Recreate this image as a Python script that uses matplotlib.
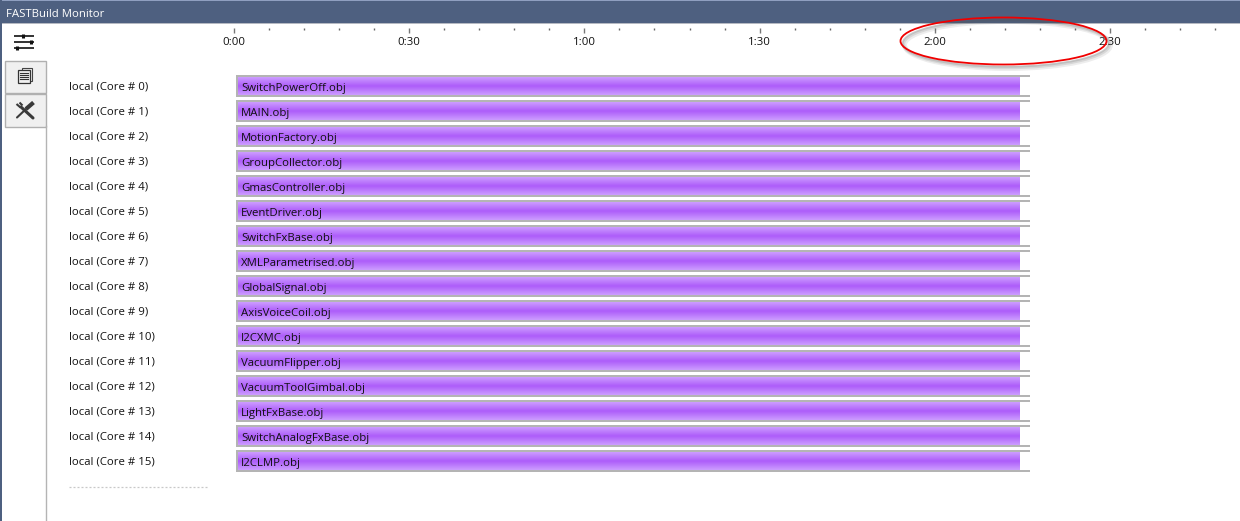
import numpy as np
import matplotlib
matplotlib.use("Agg")
import matplotlib.pyplot as plt
from matplotlib.colors import LinearSegmentedColormap
from matplotlib.patches import Rectangle, Ellipse

plt.rcParams['font.family'] = ['Open Sans', 'DejaVu Sans']

cores = [f"local (Core # {i})" for i in range(16)]
jobs = ["SwitchPowerOff.obj", "MAIN.obj", "MotionFactory.obj", "GroupCollector.obj",
        "GmasController.obj", "EventDriver.obj", "SwitchFxBase.obj", "XMLParametrised.obj",
        "GlobalSignal.obj", "AxisVoiceCoil.obj", "I2CXMC.obj", "VacuumFlipper.obj",
        "VacuumToolGimbal.obj", "LightFxBase.obj", "SwitchAnalogFxBase.obj", "I2CLMP.obj"]
job_start = [0.68] * 16
job_end = [134.45] * 16
row_end = [136.3] * 16
major_secs = [0, 30, 60, 90, 120, 150]
major_labels = ["0:00", "0:30", "1:00", "1:30", "2:00", "2:30"]
minor_secs = [s for s in range(0, 169, 6) if s % 30]

W, H = 1240, 521
PX_PER_SEC = 5.84
X0 = 234.0
Y0 = 86.0
ROW = 25.0
FS = 8.2

fig = plt.figure(figsize=(W / 100, H / 100), dpi=100, facecolor="white")

# chart axes: x in seconds, y in row numbers
ax = fig.add_axes([0, 0, 1, 1], zorder=2)
ax.axis("off")

# overlay in pixels for window chrome
ui = fig.add_axes([0, 0, 1, 1], zorder=1)
ui.set_xlim(0, W)
ui.set_ylim(H, 0)
ui.axis("off")

top = fig.add_axes([0, 0, 1, 1], zorder=3)
top.set_xlim(0, W)
top.set_ylim(H, 0)
top.axis("off")

# window chrome
ui.add_patch(Rectangle((0, 0), W, 23.5, color="#4e6080", lw=0))
ui.add_patch(Rectangle((0, 0), W, 1.2, color="#8f9fc0", lw=0))
ui.add_patch(Rectangle((0, 23), W, 1.0, color="#b5b9c2", lw=0))
ui.add_patch(Rectangle((0, 0), 2.0, H, color="#4e6080", lw=0))
ui.text(6, 17.3, "FASTBuild Monitor", color="white", fontsize=FS, va="baseline", ha="left")
ui.plot([45.9, 45.9], [126, H], color="#b4b4b4", lw=1.0)
for y0, y1 in [(60.5, 92.5), (93.5, 126.5)]:
    ui.add_patch(Rectangle((4.5, y0), 41, y1 - y0, facecolor="#f0f0f0", edgecolor="#b0b0b0", lw=1.0))

# sliders icon
for y, kx in [(35.7, 22.7), (41.7, 30.7), (47.7, 17.3)]:
    ui.plot([14, 34], [y, y], color="#111111", lw=1.2, solid_capstyle="butt")
    ui.plot([kx, kx], [y - 2, y + 2], color="#111111", lw=2.2, solid_capstyle="butt")
# document icon
ui.add_patch(Rectangle((21.5, 67.5), 10, 13.5, facecolor="#f0f0f0", edgecolor="#444444", lw=0.8))
ui.add_patch(Rectangle((18, 69.5), 11.5, 13.5, facecolor="#f0f0f0", edgecolor="#333333", lw=0.9))
for y in [72.5, 74.7, 76.9, 79.1]:
    ui.plot([20, 27.5], [y, y], color="#333333", lw=0.8)
# tools icon
ui.plot([21, 33], [107, 118], color="#3a3a3a", lw=2.2, solid_capstyle="round")
ui.plot([16.5, 20.5], [104, 107.5], color="#3a3a3a", lw=1.5, solid_capstyle="butt")
ui.plot([19.5, 22.5], [102.5, 105.5], color="#3a3a3a", lw=1.5, solid_capstyle="butt")
ui.plot([17, 26], [117.5, 109], color="#3a3a3a", lw=1.5, solid_capstyle="round")
ui.plot([26, 33.5], [109, 102.5], color="#3a3a3a", lw=3.0, solid_capstyle="butt")

# dashed separator
ui.plot([69, 207], [486.5, 486.5], color="#c8c8c8", lw=0.9, dashes=(1.6, 1.6))

# time ruler
axis_y_top = (28 - Y0) / ROW
for s, lab in zip(major_secs, major_labels):
    ax.plot([s, s], [axis_y_top, axis_y_top + 4.5 / ROW], color="#777777", lw=1.0, solid_capstyle="butt")
    ax.text(s, (45.3 - Y0) / ROW, lab, fontsize=FS, color="#111111", ha="center", va="baseline")
for s in minor_secs:
    ax.plot([s, s], [axis_y_top, axis_y_top + 2 / ROW], color="#666666", lw=1.0, solid_capstyle="butt")

# rows
cmap = LinearSegmentedColormap.from_list("job", ["#cc9cff", "#ad5cfa", "#cc9cff"])
grad = np.linspace(0, 1, 64).reshape(-1, 1)
half = 9.0 / ROW
outer = 10.7 / ROW
left_border = 0.34
for i, (core, job) in enumerate(zip(cores, jobs)):
    ax.text((69 - X0) / PX_PER_SEC, i + 3.8 / ROW, core, fontsize=FS, color="#111111",
            ha="left", va="baseline")
    ax.barh([i], [row_end[i] - job_start[i] + left_border], left=job_start[i] - left_border,
            height=2 * outer, color="#b4b4b4", lw=0, zorder=1)
    ax.barh([i], [row_end[i] - job_start[i] + 1], left=job_start[i], height=2 * half,
            color="white", lw=0, zorder=1.2)
    ax.imshow(grad, extent=(job_start[i], job_end[i], i + half, i - half), cmap=cmap,
              aspect="auto", interpolation="bilinear", zorder=1.5)
    ax.text(job_start[i] + 0.5, i + 5.3 / ROW, job, fontsize=FS, color="#111111",
            ha="left", va="baseline", zorder=3)
ax.set_xlim(-X0 / PX_PER_SEC, (W - X0) / PX_PER_SEC)
ax.set_ylim((H - Y0) / ROW, -Y0 / ROW)

# red annotation ellipse with soft shadow
for off, a, lw in [(4, 0.10, 3.5), (3, 0.14, 2.5), (2.2, 0.18, 1.5)]:
    top.add_patch(Ellipse((1003.5 + off, 41 + off), 206, 47, fill=False,
                          edgecolor="#555555", alpha=a, lw=lw))
top.add_patch(Ellipse((1003.5, 41), 206, 47, fill=False, edgecolor="#f00000", lw=1.3))

fig.savefig("out.png", dpi=100)
